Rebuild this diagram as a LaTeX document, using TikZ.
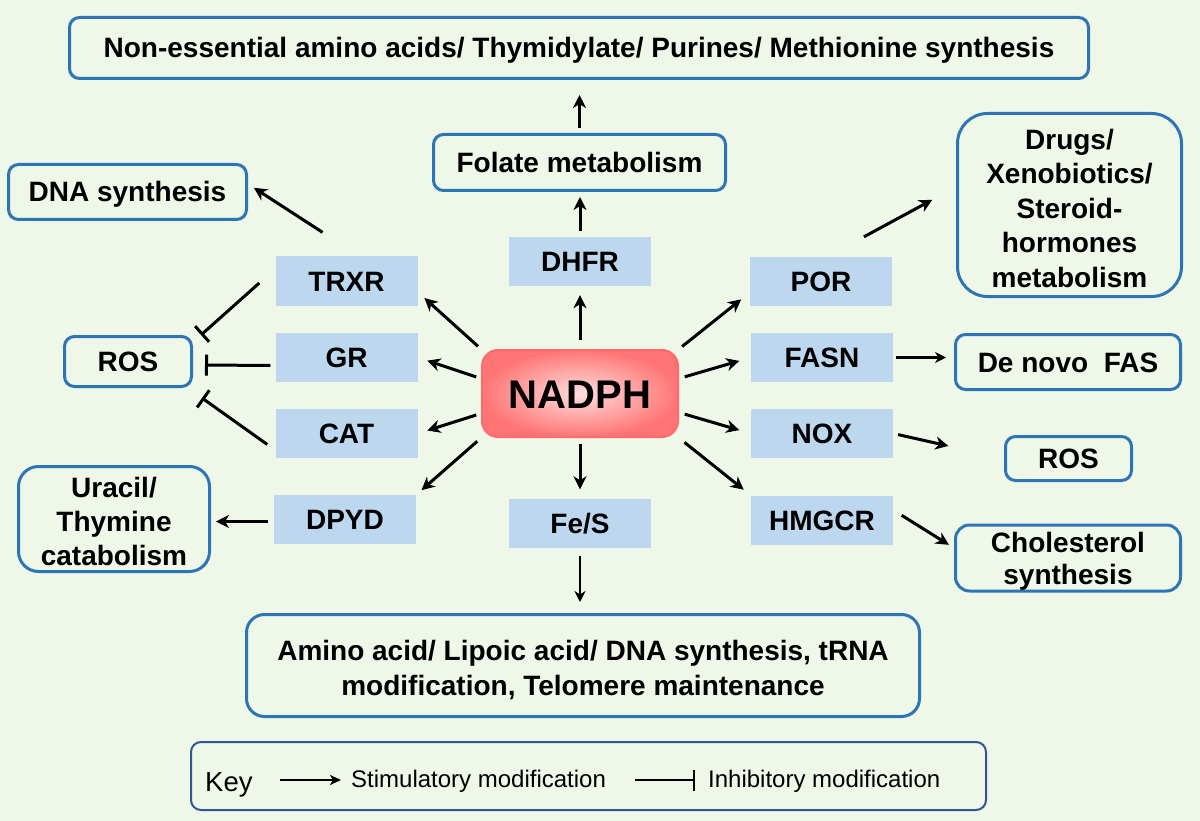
\documentclass[tikz,border=0pt]{standalone}
\usepackage{fontspec}
\setmainfont{Liberation Sans}
\usetikzlibrary{arrows.meta,calc}
\definecolor{bg}{HTML}{EFF7E8}
\definecolor{bord}{HTML}{2E75B6}
\definecolor{enz}{HTML}{BDD7EE}
\definecolor{nadin}{HTML}{FFDEDE}
\definecolor{nadout}{HTML}{FF7575}
\definecolor{nadbd}{HTML}{FF6B6B}
\definecolor{keybd}{HTML}{2F5597}
\newcommand\topstrut[1]{\rule{0pt}{#1}}
\begin{document}
\begin{tikzpicture}[x=1pt,y=-1pt,
  lab/.style={font=\fontsize{28}{34}\selectfont\bfseries, align=center, inner sep=0pt},
  sl/.style={text height=20pt, text depth=0pt},
  pbox/.style={lab, draw=bord, line width=3pt, rounded corners=10pt},
  enzbox/.style={lab, sl, fill=enz, minimum width=142pt, minimum height=49pt},
  arr/.style={line width=3pt, -{Stealth[length=13pt,width=13pt,inset=4pt]}},
  arrthin/.style={line width=2.2pt, -{Stealth[length=11pt,width=11pt,inset=3.5pt]}},
  inh/.style={line width=3pt, -{Bar[width=21pt,line width=3pt]}},
  keytxt/.style={font=\fontsize{24}{28}\selectfont, inner sep=0pt, anchor=west, text height=17pt, text depth=0pt},
]
\useasboundingbox (0,0) rectangle (1200,821);
\fill[bg] (0,0) rectangle (1200,821);

% outcome boxes
\node[pbox, sl, minimum width=1019pt, minimum height=61pt] (top) at (579,48) {Non-essential amino acids/ Thymidylate/ Purines/ Methionine synthesis};
\node[pbox, sl, minimum width=292pt, minimum height=56pt] (folate) at (579.5,162.5) {Folate metabolism};
\node[pbox, sl, minimum width=238pt, minimum height=55pt] (dna) at (127.5,192) {DNA synthesis};
\node[pbox, font=\fontsize{28}{34.5}\selectfont\bfseries, minimum width=224pt, minimum height=183pt, rounded corners=30pt] (drugs) at (1069.5,205) {\topstrut{26.5pt}Drugs/\\Xenobiotics/\\Steroid-\\hormones\\metabolism};
\node[pbox, sl, minimum width=127pt, minimum height=50pt] (rosL) at (128,361.5) {ROS};
\node[pbox, minimum width=191pt, minimum height=105pt, rounded corners=20pt] (uracil) at (114,519) {\topstrut{25.5pt}Uracil/\\Thymine\\catabolism};
\node[pbox, sl, minimum width=225pt, minimum height=55pt] (denovo) at (1068,362) {De novo\ \ FAS};
\node[pbox, sl, minimum width=126pt, minimum height=44pt] (rosR) at (1068.5,458.5) {ROS};
\node[pbox, font=\fontsize{28}{32}\selectfont\bfseries, minimum width=225pt, minimum height=66pt, rounded corners=14pt] (chol) at (1068,558) {\topstrut{26.5pt}Cholesterol\\synthesis};
\node[pbox, font=\fontsize{28}{35}\selectfont\bfseries, minimum width=673pt, minimum height=102pt, rounded corners=18pt] (bottom) at (583,665.5) {\topstrut{30pt}Amino acid/ Lipoic acid/ DNA synthesis, tRNA\\modification, Telomere maintenance};

% centre
\node[draw=nadbd, line width=2pt, rounded corners=16pt, inner color=nadin, outer color=nadout,
      minimum width=196pt, minimum height=87pt, inner sep=0pt,
      font=\fontsize{40}{48}\selectfont\bfseries, text height=29pt, text depth=0pt] (nadph) at (580,393.5) {NADPH};

% enzymes
\node[enzbox] (dhfr) at (580,261.5) {DHFR};
\node[enzbox] (trxr) at (346.5,281) {TRXR};
\node[enzbox] (gr) at (346.5,357.5) {GR};
\node[enzbox] (cat) at (346.5,433.5) {CAT};
\node[enzbox] (dpyd) at (345,519.5) {DPYD};
\node[enzbox] (fes) at (580,523) {Fe/S};
\node[enzbox] (por) at (821,281.5) {POR};
\node[enzbox] (fasn) at (822,357.5) {FASN};
\node[enzbox] (nox) at (822,433.5) {NOX};
\node[enzbox] (hmgcr) at (822,520) {HMGCR};

% NADPH to enzymes
\draw[arr, shorten <=9pt, shorten >=9pt] (nadph.north) -- (dhfr.south);
\draw[arr, shorten <=6pt, shorten >=9pt] (nadph.south) -- (fes.north);
\draw[arr, shorten <=4pt, shorten >=9pt] (nadph.north west) -- ([yshift=-11pt]trxr.east);
\draw[arr, shorten <=5pt, shorten >=10pt] ([yshift=15pt]nadph.west) -- (gr.east);
\draw[arr, shorten <=5pt, shorten >=10pt] ([yshift=-20pt]nadph.west) -- (cat.east);
\draw[arr, shorten <=5pt, shorten >=7pt] (nadph.south west) -- (dpyd.north east);
\draw[arr, shorten <=4pt, shorten >=11pt] (nadph.north east) -- ([yshift=-11pt]por.west);
\draw[arr, shorten <=6pt, shorten >=12pt] ([yshift=15pt]nadph.east) -- (fasn.west);
\draw[arr, shorten <=6pt, shorten >=12pt] ([yshift=-19pt]nadph.east) -- (nox.west);
\draw[arr, shorten <=7pt, shorten >=9pt] (nadph.south east) -- (hmgcr.north west);

% enzymes to outcomes
\draw[arr, shorten <=6pt, shorten >=5pt] (dhfr.north) -- (dhfr.north |- folate.south);
\draw[arr, shorten <=5pt, shorten >=15pt] (folate.north) -- (folate.north |- top.south);
\draw[arr, shorten <=44pt, shorten >=7pt] ([xshift=13pt]trxr.north) -- ([yshift=8pt]dna.east);
\draw[arr, shorten <=42pt, shorten >=27pt] ([xshift=6pt]por.north) -- ([yshift=18pt]drugs.west);
\draw[arrthin, shorten <=3pt, shorten >=8pt] (fasn.east) -- (fasn.east -| denovo.west);
\draw[arr, shorten <=5pt, shorten >=57pt] (nox.east) -- (rosR.west);
\draw[arr, shorten <=10pt, shorten >=6pt] ([yshift=10pt]hmgcr.east) -- ([yshift=10pt]chol.west);
\draw[arr, shorten <=6pt, shorten >=5pt] ([yshift=-2pt]dpyd.west) -- ([yshift=-2pt]dpyd.west -| uracil.east);
\draw[arrthin, shorten <=8pt, shorten >=11pt] (fes.south) -- (fes.south |- bottom.north);

% inhibitions
\draw[inh] ([shift={(-16,2)}]trxr.west) -- ([xshift=8pt]rosL.north east);
\draw[inh] ([shift={(-5,8)}]gr.west) -- ([shift={(12,3.5)}]rosL.east);
\draw[inh] ([shift={(-8,11)}]cat.west) -- ([shift={(9,10)}]rosL.south east);

% key
\node[draw=keybd, line width=2pt, rounded corners=10pt, minimum width=795pt, minimum height=68pt] (key) at (588.5,776) {};
\node[keytxt, font=\fontsize{27.5}{30}\selectfont, text height=20pt] (keyword) at (205,781) {Key};
\node[keytxt] (stim) at (351,779) {Stimulatory modification};
\node[keytxt] (inhib) at (708,779) {Inhibitory modification};
\coordinate (ka) at (280,780);
\coordinate (kb) at (341,780);
\coordinate (kc) at (635,780);
\coordinate (kd) at (695,780);
\draw[line width=2.2pt, -{Stealth[length=11pt,width=10pt,inset=3pt]}] (ka) -- (kb);
\draw[line width=2.4pt, -{Bar[width=21pt,line width=2.4pt]}] (kc) -- (kd);
\end{tikzpicture}
\end{document}
